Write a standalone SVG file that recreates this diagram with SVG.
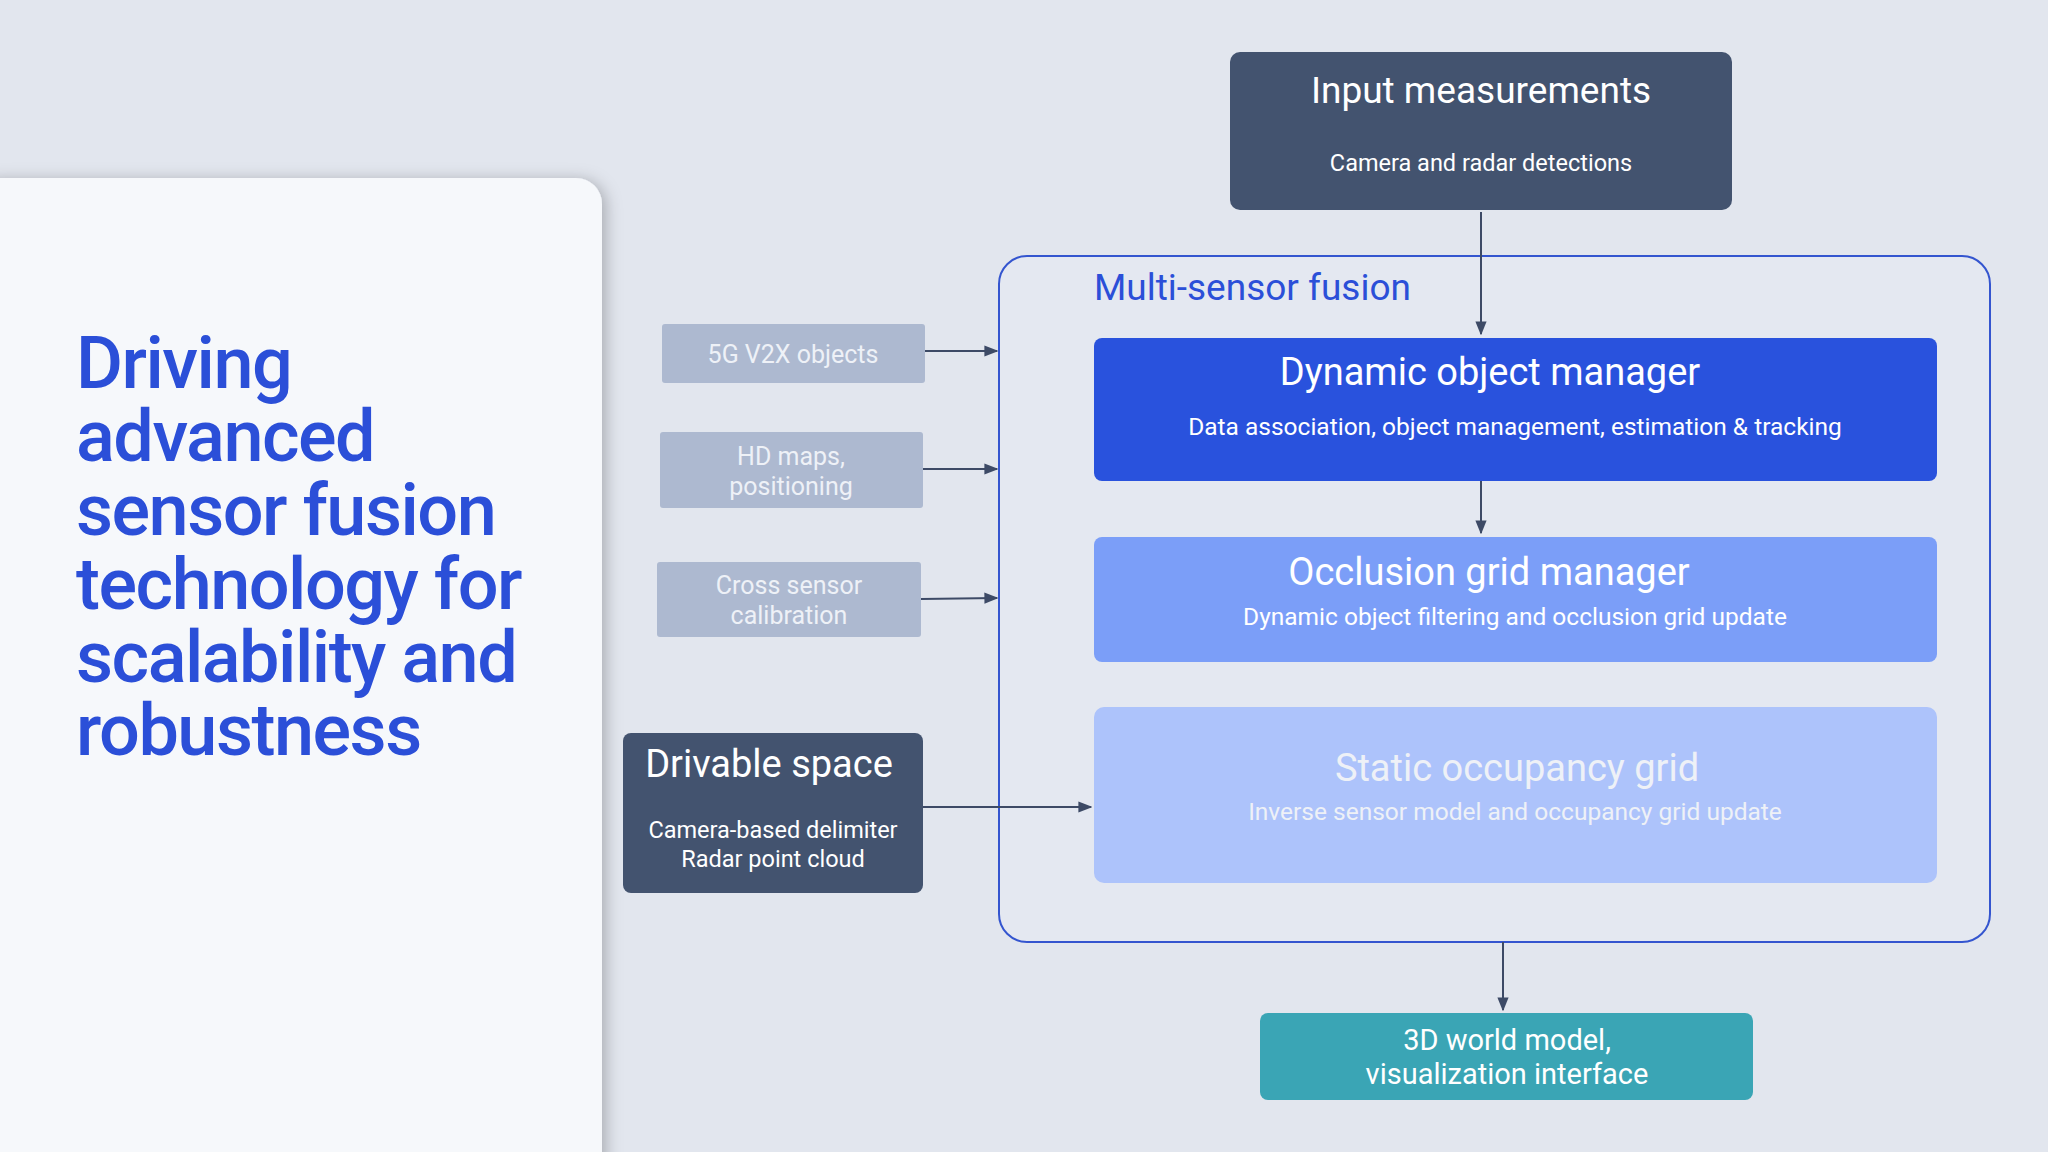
<svg xmlns="http://www.w3.org/2000/svg" width="2048" height="1152" viewBox="0 0 2048 1152">
<defs>
<style>
text{font-family:Roboto,"Liberation Sans",sans-serif;text-anchor:middle}
.w{fill:#ffffff}
.g{fill:#eef1f7}
.c{stroke:#3d4a66;stroke-width:2;fill:none;marker-end:url(#a)}
</style>
<marker id="a" viewBox="0 0 10 10" refX="9" refY="5" markerWidth="7" markerHeight="7" orient="auto"><path d="M0,1L10,5L0,9z" fill="#3d4a66"/></marker>
<filter id="sh" x="-20%" y="-20%" width="140%" height="140%"><feDropShadow dx="4" dy="2" stdDeviation="8" flood-color="#000" flood-opacity="0.25"/></filter>
</defs>
<rect width="2048" height="1152" fill="#e2e6ee"/>
<g id="panel">
<rect x="-30" y="178" width="632" height="1010" rx="26" fill="#f6f8fb" filter="url(#sh)"/>
<text x="76" y="388" style="text-anchor:start;font-size:72px;font-weight:500;fill:#2b4fd8;letter-spacing:-1.5px"><tspan x="76" y="388">Driving</tspan><tspan x="76" y="461">advanced</tspan><tspan x="76" y="535">sensor fusion</tspan><tspan x="76" y="609">technology for</tspan><tspan x="76" y="682">scalability and</tspan><tspan x="76" y="755">robustness</tspan></text>
</g>
<g id="fusion">
<rect x="999" y="256" width="991" height="686" rx="28" fill="#e4e8f1" stroke="#3455cf" stroke-width="2"/>
<text x="1094" y="300" style="text-anchor:start;font-size:37px;fill:#2b4fd8">Multi-sensor fusion</text>
</g>
<g id="input">
<rect x="1230" y="52" width="502" height="158" rx="10" fill="#43536f"/>
<text x="1481" y="103" class="w" font-size="37">Input measurements</text>
<text x="1481" y="171" class="w" font-size="23.5">Camera and radar detections</text>
</g>
<g id="dom">
<rect x="1094" y="338" width="843" height="143" rx="8" fill="#2952dd"/>
<text x="1490" y="385" class="w" font-size="38">Dynamic object manager</text>
<text x="1515" y="435" class="w" font-size="24.5">Data association, object management, estimation &amp; tracking</text>
</g>
<g id="ogm">
<rect x="1094" y="537" width="843" height="125" rx="8" fill="#7b9ef8"/>
<text x="1489" y="585" class="w" font-size="38">Occlusion grid manager</text>
<text x="1515" y="625" class="w" font-size="24.5">Dynamic object filtering and occlusion grid update</text>
</g>
<g id="sog">
<rect x="1094" y="707" width="843" height="176" rx="10" fill="#adc3fb"/>
<text x="1517" y="781" class="g" font-size="38">Static occupancy grid</text>
<text x="1515" y="820" class="g" font-size="24.5">Inverse sensor model and occupancy grid update</text>
</g>
<g id="v2x">
<rect x="662" y="324" width="263" height="59" rx="3" fill="#adb9d0"/>
<text x="793" y="363" class="g" font-size="25">5G V2X objects</text>
</g>
<g id="hd">
<rect x="660" y="432" width="263" height="76" rx="3" fill="#adb9d0"/>
<text x="791" y="465" class="g" font-size="25">HD maps,</text>
<text x="791" y="495" class="g" font-size="25">positioning</text>
</g>
<g id="cross">
<rect x="657" y="562" width="264" height="75" rx="3" fill="#adb9d0"/>
<text x="789" y="594" class="g" font-size="25">Cross sensor</text>
<text x="789" y="624" class="g" font-size="25">calibration</text>
</g>
<g id="drivable">
<rect x="623" y="733" width="300" height="160" rx="8" fill="#43536f"/>
<text x="769" y="777" class="w" font-size="38">Drivable space</text>
<text x="773" y="838" class="w" font-size="23.5">Camera-based delimiter</text>
<text x="773" y="867" class="w" font-size="23.5">Radar point cloud</text>
</g>
<g id="world">
<rect x="1260" y="1013" width="493" height="87" rx="8" fill="#3aa5b5"/>
<text x="1507" y="1050" class="w" font-size="29">3D world model,</text>
<text x="1507" y="1084" class="w" font-size="29">visualization interface</text>
</g>
<g id="connectors">
<path class="c" d="M1481,212V334"/>
<path class="c" d="M1481,481V533"/>
<path class="c" d="M925,351H997"/>
<path class="c" d="M923,469H997"/>
<path class="c" d="M921,599L997,598"/>
<path class="c" d="M923,807H1091"/>
<path class="c" d="M1503,942V1010"/>
</g>
</svg>
